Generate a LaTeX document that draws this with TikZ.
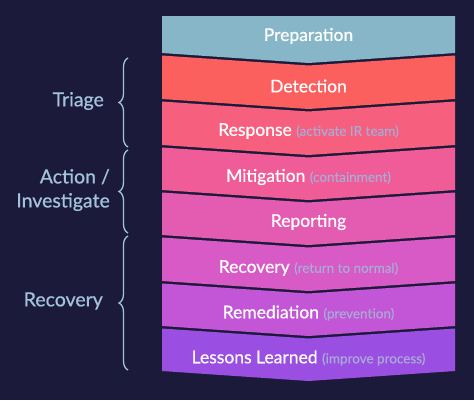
\documentclass[tikz,border=0pt]{standalone}
\usepackage{fontspec}
\setmainfont{Lato}
\newfontfamily\medfont{Lato}[FakeBold=0.6]
\newfontfamily\subfont{Lato}[FakeBold=0.3]
\usetikzlibrary{decorations.pathreplacing}
\definecolor{bgc}{HTML}{1B1A3B}
\definecolor{cPrep}{HTML}{87B6C8}
\definecolor{cDet}{HTML}{FC605E}
\definecolor{cResp}{HTML}{F65F7E}
\definecolor{cMit}{HTML}{EF5C98}
\definecolor{cRep}{HTML}{E45BB2}
\definecolor{cRec}{HTML}{D85AC6}
\definecolor{cRem}{HTML}{C356D6}
\definecolor{cLes}{HTML}{9B4FE2}
\definecolor{subc}{HTML}{A9AAD6}
\definecolor{bracec}{HTML}{A3C3DB}
\newcommand\myband[3]{\fill[#3] (162,#1) -- (308.5,#1+10) -- (455,#1) -- (455,#2) -- (308.5,#2+10) -- (162,#2) -- cycle;}
\newcommand\subtxt[1]{{\color{subc}\subfont\fontsize{13.5}{15}\selectfont#1}}
\begin{document}
\begin{tikzpicture}[x=1pt,y=-1pt,
  lbl/.style={text=white,font=\medfont\fontsize{17.5}{20}\selectfont,inner sep=0pt},
  grp/.style={text=bracec,font=\medfont\fontsize{19.5}{24}\selectfont,inner sep=0pt,anchor=east,align=right},
  bracestyle/.style={draw=bracec,line width=1.3pt,decorate,decoration={brace,amplitude=9pt}}]
\fill[bgc] (0,0) rectangle (474,400);
\useasboundingbox (0,0) rectangle (474,400);
% top band flat
\fill[cPrep] (162,16) -- (455,16) -- (455,53) -- (308.5,63) -- (162,53) -- cycle;
\myband{55.5}{99}{cDet}
\myband{101.5}{145}{cResp}
\myband{147.5}{190}{cMit}
\myband{192.5}{235}{cRep}
\myband{237.5}{281}{cRec}
\myband{283.5}{326}{cRem}
\myband{328.5}{371}{cLes}
% labels
\node[lbl] (prep) at (308.5,36) {Preparation};
\node[lbl] (det) at (308.5,86) {Detection};
\node[lbl] (resp) at (308.5,131) {Response \subtxt{(activate IR team)}};
\node[lbl] (mit) at (308.5,177) {Mitigation \subtxt{(containment)}};
\node[lbl] (rep) at (308.5,222) {Reporting};
\node[lbl] (rec) at (308.5,268) {Recovery \subtxt{(return to normal)}};
\node[lbl] (rem) at (308.5,313) {Remediation \subtxt{(prevention)}};
\node[lbl] (les) at (308.5,358) {Lessons Learned \subtxt{(improve process)}};
% braces
\coordinate (b1a) at (128,147);
\coordinate (b1b) at (128,58);
\coordinate (b2a) at (128,233);
\coordinate (b2b) at (128,150);
\coordinate (b3a) at (128,370);
\coordinate (b3b) at (128,236);
\draw[bracestyle] (b1a) -- (b1b);
\draw[bracestyle] (b2a) -- (b2b);
\draw[bracestyle] (b3a) -- (b3b);
\node[grp] (triage) at (104,101) {Triage};
\node[grp] (action) at (110,190) {Action /\\Investigate};
\node[grp] (recov) at (103,301) {Recovery};
\end{tikzpicture}
\end{document}
